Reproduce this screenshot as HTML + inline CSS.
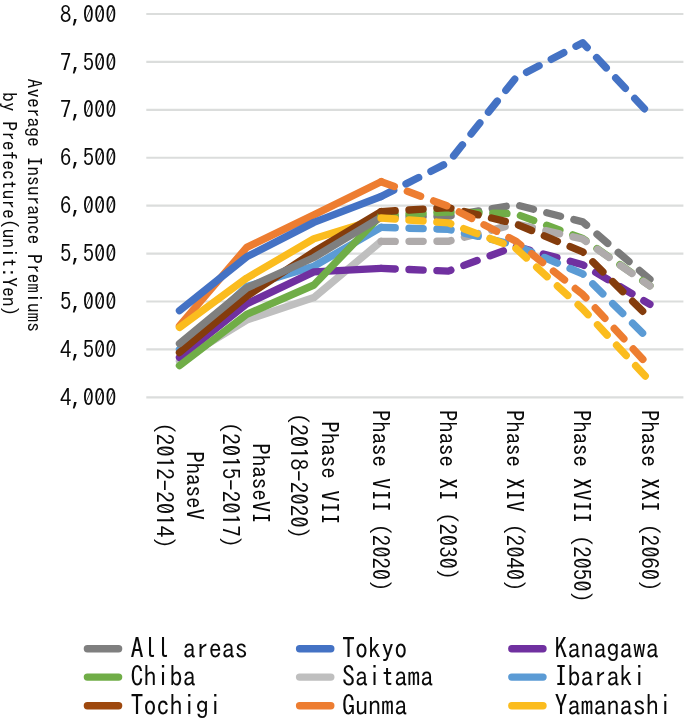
<!DOCTYPE html>
<html lang="en"><head><meta charset="utf-8"><title>Average Insurance Premiums by Prefecture</title>
<style>html,body{margin:0;padding:0;background:#fff}svg{display:block}text{font-family:"IPAGothic", "Liberation Mono", monospace;fill:#0a0a0a}</style></head><body>
<svg width="685" height="719" viewBox="0 0 685 719">
<rect width="685" height="719" fill="#fff"/>
<g stroke="#DBDDDC" stroke-width="2.2">
<line x1="146.3" y1="397.30" x2="683.4" y2="397.30"/>
<line x1="146.3" y1="349.39" x2="683.4" y2="349.39"/>
<line x1="146.3" y1="301.48" x2="683.4" y2="301.48"/>
<line x1="146.3" y1="253.56" x2="683.4" y2="253.56"/>
<line x1="146.3" y1="205.65" x2="683.4" y2="205.65"/>
<line x1="146.3" y1="157.74" x2="683.4" y2="157.74"/>
<line x1="146.3" y1="109.82" x2="683.4" y2="109.82"/>
<line x1="146.3" y1="61.91" x2="683.4" y2="61.91"/>
<line x1="146.3" y1="14.00" x2="683.4" y2="14.00"/>
</g>
<g font-size="22.6" text-anchor="end">
<text transform="translate(116.6,405.90) scale(1,1.04)">4,000</text>
<text transform="translate(116.6,357.99) scale(1,1.04)">4,500</text>
<text transform="translate(116.6,310.08) scale(1,1.04)">5,000</text>
<text transform="translate(116.6,262.16) scale(1,1.04)">5,500</text>
<text transform="translate(116.6,214.25) scale(1,1.04)">6,000</text>
<text transform="translate(116.6,166.34) scale(1,1.04)">6,500</text>
<text transform="translate(116.6,118.42) scale(1,1.04)">7,000</text>
<text transform="translate(116.6,70.51) scale(1,1.04)">7,500</text>
<text transform="translate(116.6,22.60) scale(1,1.04)">8,000</text>
</g>
<g font-size="19.5" text-anchor="middle">
<text transform="translate(27.3,205.3) rotate(90) scale(1,1.07)">Average Insurance Premiums</text>
<text transform="translate(2.3,204.1) rotate(90) scale(1,1.07)">by Prefecture(unit:Yen)</text>
</g>
<g fill="none" stroke-width="7.4" stroke-linecap="round" stroke-linejoin="round">
<polyline stroke="#BFBFBF" points="179.5,361.2 246.7,320.0 313.9,297.6 381.1,241.4"/>
<polyline stroke="#5B9BD5" points="179.5,349.4 246.7,286.6 313.9,266.2 381.1,227.4"/>
<polyline stroke="#7030A0" points="179.5,357.5 246.7,303.8 313.9,271.9 381.1,268.4"/>
<polyline stroke="#70AD47" points="179.5,365.6 246.7,314.4 313.9,285.0 381.1,215.2"/>
<polyline stroke="#ED7D31" points="179.5,325.9 246.7,247.4 313.9,214.9 381.1,181.7"/>
<polyline stroke="#FBBC1E" points="179.5,327.4 246.7,278.1 313.9,238.7 381.1,218.0"/>
<polyline stroke="#843C0C" points="179.5,352.5 246.7,296.2 313.9,251.8 381.1,211.6"/>
<polyline stroke="#7F7F7F" points="179.5,343.6 246.7,288.1 313.9,257.5 381.1,217.1"/>
<polyline stroke="#4472C4" points="179.5,310.6 246.7,256.8 313.9,222.4 381.1,196.5"/>
</g>
<g fill="none" stroke-width="7.4" stroke-linecap="round" stroke-linejoin="round" stroke-dasharray="14.1 13.85">
<polyline stroke="#7B7B7B" points="381.1,217.1 448.3,216.2 515.5,204.7 582.7,221.9 649.9,279.4"/>
<polyline stroke="#4472C4" points="381.1,196.5 448.3,162.5 515.5,78.2 582.7,42.7 649.9,114.6"/>
<polyline stroke="#7030A0" points="381.1,268.4 448.3,271.1 515.5,246.4 582.7,264.7 649.9,304.3"/>
<polyline stroke="#70AD47" points="381.1,215.2 448.3,212.0 515.5,213.8 582.7,238.5 649.9,285.7"/>
<polyline stroke="#AFABAB" points="381.1,241.4 448.3,241.3 515.5,223.9 582.7,239.0 649.9,285.9"/>
<polyline stroke="#5B9BD5" points="381.1,227.4 448.3,229.3 515.5,245.1 582.7,273.9 649.9,340.4"/>
<polyline stroke="#843C0C" points="381.1,211.6 448.3,207.6 515.5,223.8 582.7,251.9 649.9,318.4"/>
<polyline stroke="#ED7D31" points="381.1,181.7 448.3,206.3 515.5,241.0 582.7,294.4 649.9,367.0"/>
<polyline stroke="#FBBC1E" points="381.1,218.0 448.3,222.9 515.5,248.0 582.7,308.9 649.9,381.0"/>
</g>
<g font-size="23" text-anchor="middle">
<text transform="translate(186.1,485.6) rotate(90) scale(1,1.043)">PhaseV</text>
<text transform="translate(155.5,485.5) rotate(90) scale(1,1.043)">(2012-2014)</text>
<text transform="translate(251.5,483.5) rotate(90) scale(1,1.043)">PhaseVI</text>
<text transform="translate(222.3,484.9) rotate(90) scale(1,1.043)">(2015-2017)</text>
<text transform="translate(320.5,473.0) rotate(90) scale(1,1.043)">Phase VII</text>
<text transform="translate(289.9,475.9) rotate(90) scale(1,1.043)">(2018-2020)</text>
</g>
<g font-size="22.7">
<text transform="translate(371.8,410.0) rotate(90) scale(1,1.057)">Phase VII (2020)</text>
<text transform="translate(439.0,410.0) rotate(90) scale(1,1.057)">Phase XI (2030)</text>
<text transform="translate(506.2,410.0) rotate(90) scale(1,1.057)">Phase XIV (2040)</text>
<text transform="translate(573.4,410.0) rotate(90) scale(1,1.057)">Phase XVII (2050)</text>
<text transform="translate(640.6,410.0) rotate(90) scale(1,1.057)">Phase XXI (2060)</text>
</g>
<g font-size="26.1">
<line x1="87.4" y1="648.7" x2="118.6" y2="648.7" stroke="#7F7F7F" stroke-width="7.4" stroke-linecap="round"/>
<text transform="translate(130.5,657.9) scale(1,1.04)">All areas</text>
<line x1="299.6" y1="648.7" x2="330.8" y2="648.7" stroke="#4472C4" stroke-width="7.4" stroke-linecap="round"/>
<text transform="translate(342.0,657.9) scale(1,1.04)">Tokyo</text>
<line x1="511.8" y1="648.7" x2="543.0" y2="648.7" stroke="#7030A0" stroke-width="7.4" stroke-linecap="round"/>
<text transform="translate(554.4,657.9) scale(1,1.04)">Kanagawa</text>
<line x1="87.4" y1="677.1" x2="118.6" y2="677.1" stroke="#70AD47" stroke-width="7.4" stroke-linecap="round"/>
<text transform="translate(130.5,686.3) scale(1,1.04)">Chiba</text>
<line x1="299.6" y1="677.1" x2="330.8" y2="677.1" stroke="#BFBFBF" stroke-width="7.4" stroke-linecap="round"/>
<text transform="translate(342.0,686.3) scale(1,1.04)">Saitama</text>
<line x1="511.8" y1="677.1" x2="543.0" y2="677.1" stroke="#5B9BD5" stroke-width="7.4" stroke-linecap="round"/>
<text transform="translate(554.4,686.3) scale(1,1.04)">Ibaraki</text>
<line x1="87.4" y1="705.7" x2="118.6" y2="705.7" stroke="#9E480E" stroke-width="7.4" stroke-linecap="round"/>
<text transform="translate(130.5,714.9) scale(1,1.04)">Tochigi</text>
<line x1="299.6" y1="705.7" x2="330.8" y2="705.7" stroke="#ED7D31" stroke-width="7.4" stroke-linecap="round"/>
<text transform="translate(342.0,714.9) scale(1,1.04)">Gunma</text>
<line x1="511.8" y1="705.7" x2="543.0" y2="705.7" stroke="#FBBC1E" stroke-width="7.4" stroke-linecap="round"/>
<text transform="translate(554.4,714.9) scale(1,1.04)">Yamanashi</text>
</g>
</svg></body></html>
